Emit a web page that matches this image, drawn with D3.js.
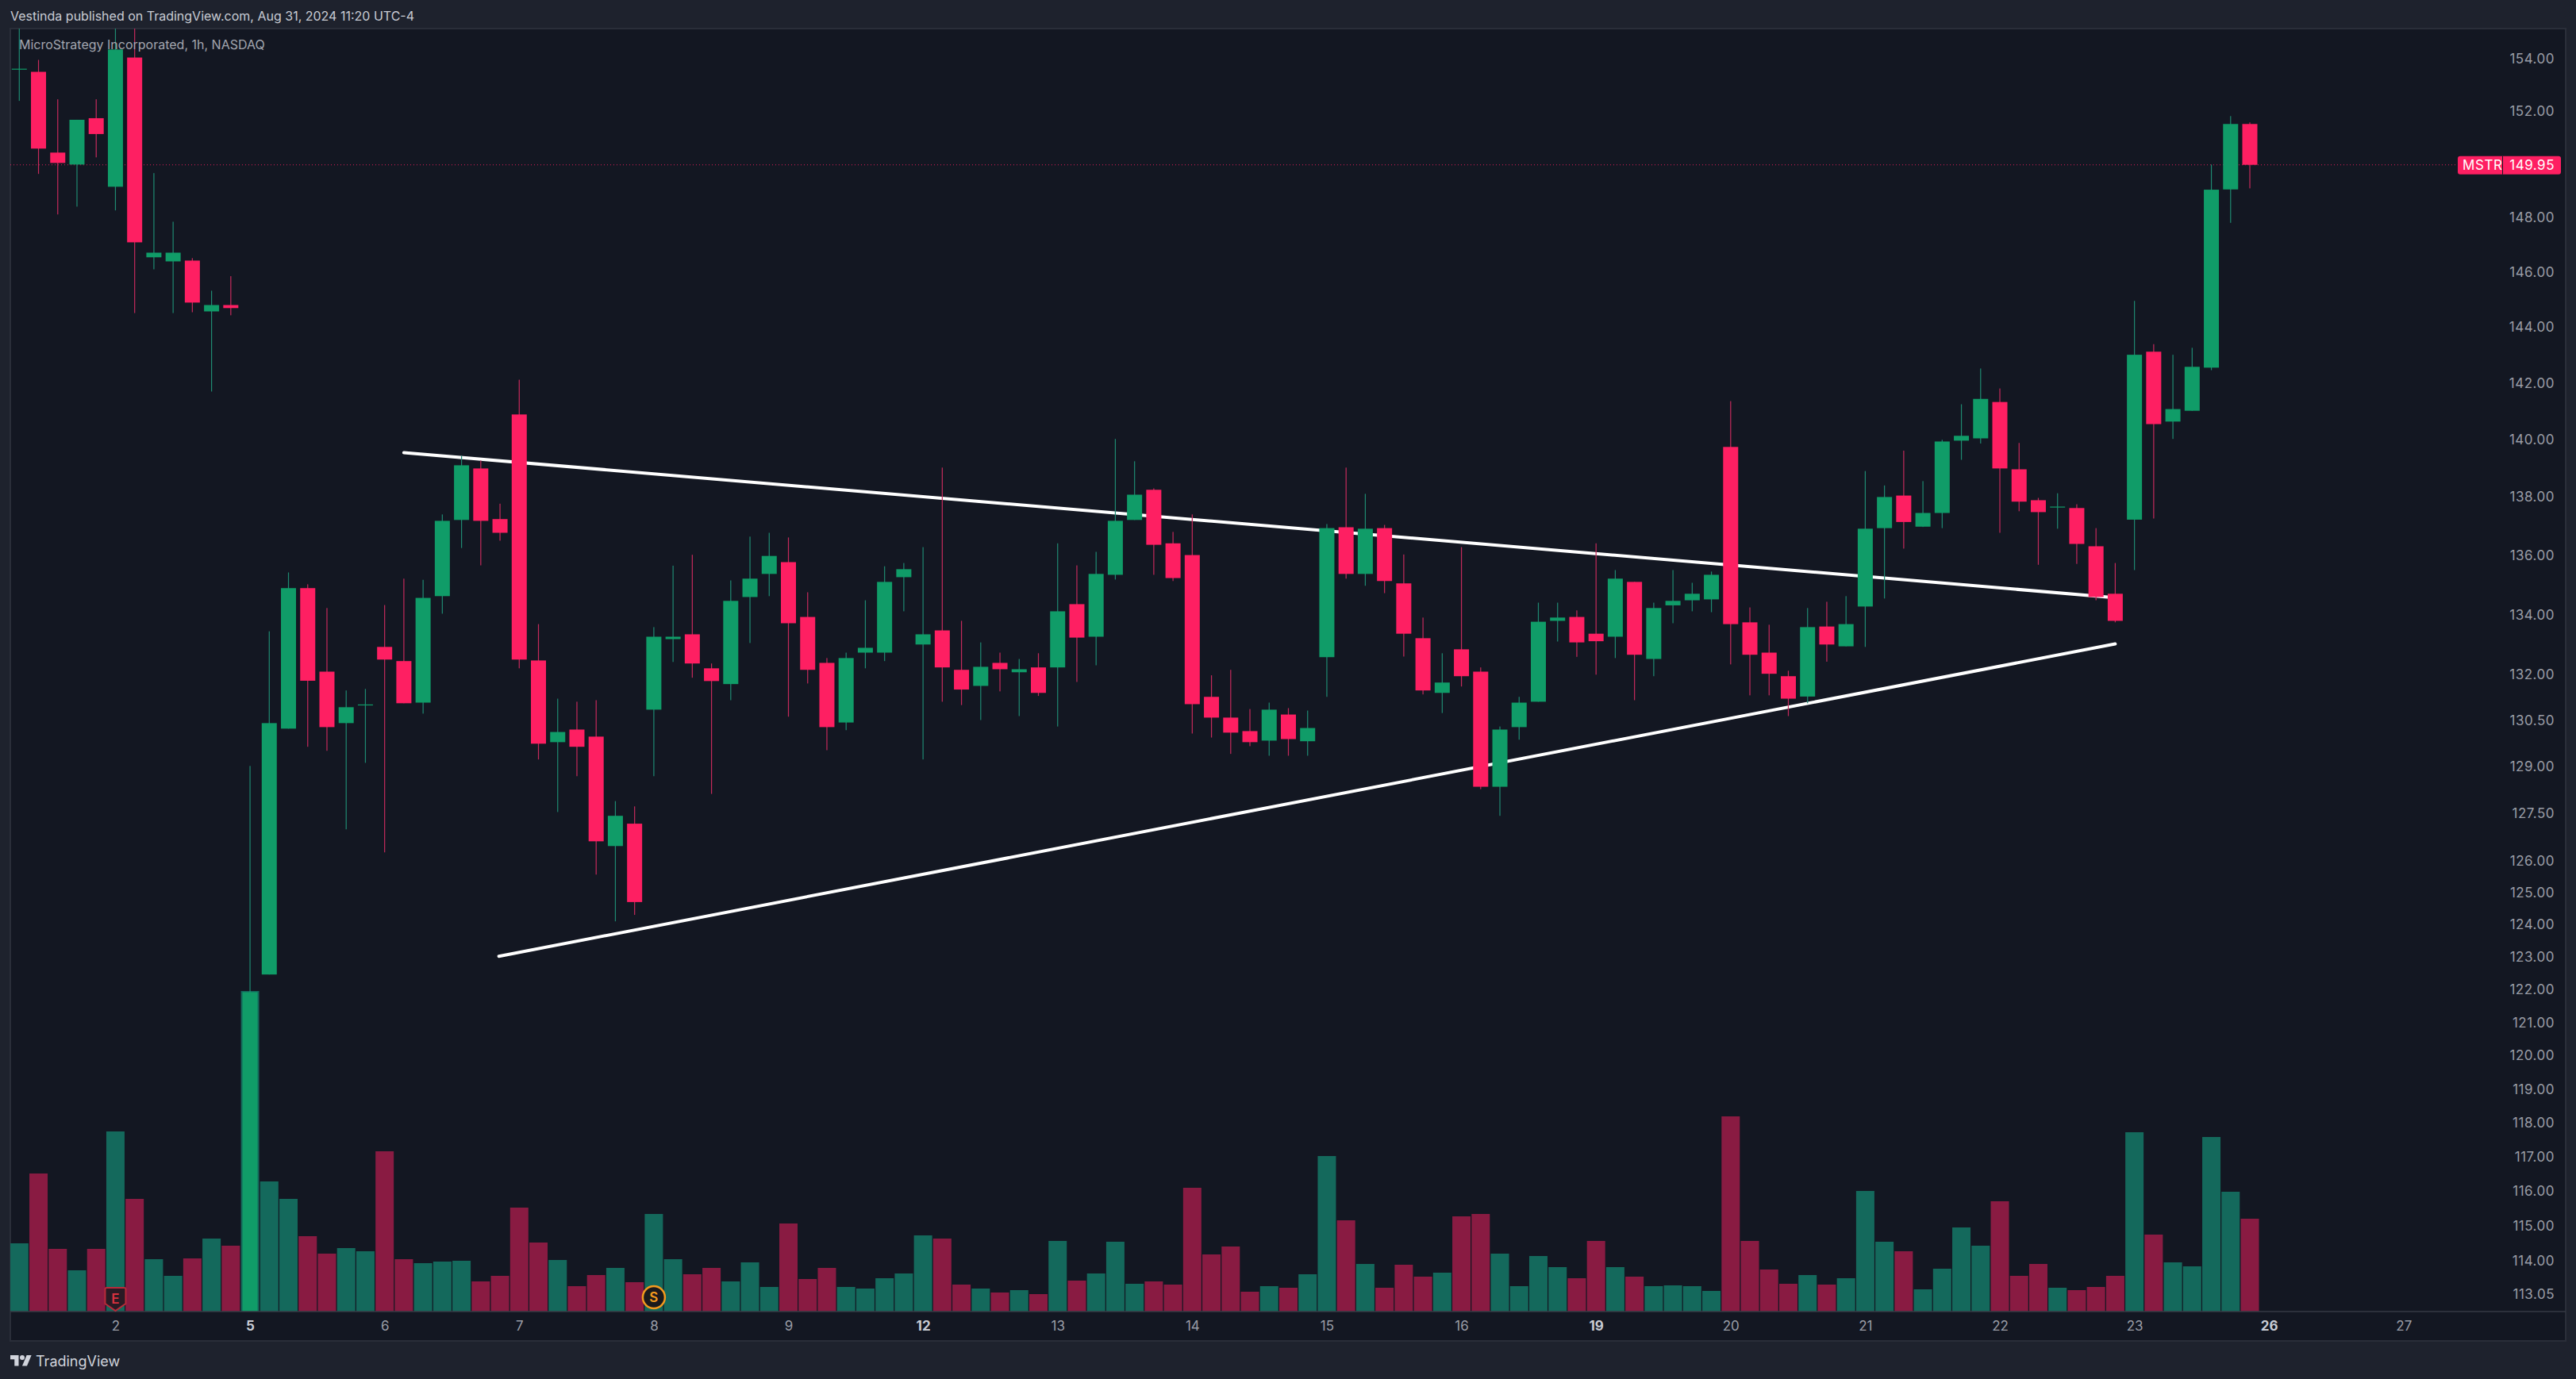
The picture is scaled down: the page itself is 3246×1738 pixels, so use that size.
<!DOCTYPE html>
<html lang="en">
<head>
<meta charset="utf-8">
<title>MSTR 1h</title>
<script src="https://cdnjs.cloudflare.com/ajax/libs/d3/7.9.0/d3.min.js"></script>
<style>
  html, body { margin: 0; padding: 0; background: #1e222d; }
  svg { display: block; }
  text { font-family: Inter, "Noto Sans", sans-serif; }
</style>
</head>
<body>
<div id="chart"></div>
<script>
// Hourly OHLC bars, oldest first
const opens = [153.58,153.48,150.41,149.96,151.71,149.13,154.03,146.52,146.37,146.40,
  144.55,144.78,111.50,122.45,130.22,134.88,132.09,130.40,131.00,132.91,
  132.44,131.07,134.61,137.20,138.98,137.23,140.87,132.46,129.78,130.19,
  129.96,126.45,127.16,130.84,133.17,133.33,132.20,131.68,134.58,135.36,
  135.76,133.91,132.38,130.42,132.72,132.72,135.25,132.99,133.46,132.15,
  131.62,132.38,132.07,132.23,132.23,134.34,133.25,135.33,137.20,138.24,
  136.40,136.00,131.26,130.58,130.14,129.83,130.68,129.81,132.57,136.95,
  135.36,136.92,135.04,133.20,131.39,132.83,132.09,128.34,130.27,131.10,
  133.78,133.91,133.35,133.25,135.09,132.51,134.30,134.47,134.50,139.73,
  133.73,132.72,131.94,131.27,133.59,132.93,134.26,136.92,138.04,136.97,
  137.44,139.95,140.03,141.31,138.95,137.88,137.65,137.61,136.30,134.69,
  137.21,143.10,140.62,141.00,142.53,149.03,151.49];
const highs = [155.31,153.94,152.43,151.65,152.43,155.31,155.31,149.64,147.83,146.49,
  145.30,145.83,129.01,133.43,135.41,135.01,134.21,131.47,131.52,134.31,
  135.20,135.16,137.39,139.42,139.26,137.76,142.10,133.67,131.20,131.10,
  131.15,127.88,127.71,133.57,135.64,136.01,132.36,135.14,136.63,136.76,
  136.60,134.74,132.54,132.72,134.47,135.62,135.73,136.27,139.01,133.78,
  133.06,132.72,132.51,132.70,136.40,135.65,136.11,140.01,139.23,138.29,
  136.79,137.39,131.97,132.15,130.86,131.07,130.89,130.81,137.06,139.01,
  138.10,137.03,136.02,133.89,132.70,136.27,132.23,130.29,131.26,134.39,
  134.39,134.13,136.40,135.49,135.09,134.39,135.49,135.06,135.44,141.34,
  134.23,133.65,132.12,134.21,134.42,134.61,138.89,138.39,139.60,138.54,
  139.98,141.23,142.50,141.79,139.87,137.96,138.12,137.74,136.92,135.73,
  144.93,143.37,142.99,143.24,149.96,151.79,151.55];
const lows = [152.37,149.61,148.10,148.39,150.23,148.25,144.49,146.08,144.49,144.52,
  141.68,144.41,111.00,122.45,130.22,129.63,129.50,126.98,129.11,126.25,
  131.05,130.71,134.02,136.24,135.65,136.49,132.20,129.22,127.53,128.68,
  125.55,124.09,124.29,128.68,132.41,131.89,128.11,131.15,133.04,134.61,
  130.61,131.70,129.52,130.17,132.20,132.44,134.10,129.22,131.10,130.99,
  130.50,131.44,130.63,131.29,130.29,131.75,132.30,135.17,137.20,135.33,
  135.12,130.06,129.93,129.40,129.65,129.34,129.34,129.34,131.26,135.20,
  134.96,134.71,132.59,131.34,130.73,131.60,128.26,127.41,129.86,131.10,
  133.09,132.58,131.99,132.54,131.15,131.94,133.70,134.10,134.07,132.33,
  131.31,131.31,130.63,131.05,132.42,132.93,132.91,134.53,136.22,136.96,
  136.92,139.28,139.85,136.76,137.50,135.67,136.90,135.70,134.47,133.73,
  135.49,137.25,140.01,141.00,142.44,147.79,149.07];
const closes = [153.60,150.56,150.02,151.65,151.11,154.34,147.07,146.69,146.69,144.87,
  144.78,144.67,121.91,130.40,134.88,131.79,130.27,130.92,131.01,132.49,
  131.05,134.55,137.17,139.09,137.17,136.76,132.49,129.73,130.11,129.63,
  126.60,127.41,124.69,133.25,133.25,132.36,131.78,134.45,135.20,135.97,
  133.70,132.15,130.27,132.54,132.88,135.09,135.52,133.33,132.23,131.50,
  132.25,132.17,132.17,131.39,134.10,133.22,135.36,137.17,138.07,136.35,
  135.22,131.02,130.58,130.09,129.78,130.84,129.88,130.24,136.92,135.36,
  136.90,135.12,133.35,131.47,131.73,131.94,128.34,130.19,131.07,133.75,
  133.89,133.06,133.10,135.20,132.65,134.21,134.45,134.69,135.33,133.67,
  132.65,132.02,131.20,133.57,132.99,133.67,136.90,137.99,137.13,137.44,
  139.92,140.12,141.42,138.98,137.83,137.47,137.66,136.38,134.58,133.78,
  142.99,140.53,141.06,142.56,149.02,151.49,149.95];

// Traded volume per bar, thousands of shares
const volumes = [1720,3480,1580,1040,1580,4540,2840,1320,900,1340,
  1840,1660,8080,3280,2840,1900,1460,1600,1520,4040,
  1320,1220,1260,1280,760,900,2620,1740,1300,640,
  920,1100,740,2460,1320,940,1100,760,1240,620,
  2220,820,1100,620,580,840,960,1920,1840,680,
  580,480,540,440,1780,780,960,1760,700,760,
  680,3120,1440,1640,500,640,600,940,3920,2300,
  1200,600,1180,880,980,2400,2460,1460,640,1400,
  1120,840,1780,1120,880,640,660,640,520,4920,
  1780,1060,700,920,680,840,3040,1760,1520,560,
  1080,2120,1660,2780,900,1200,600,540,620,900,
  4520,1940,1240,1140,4400,3020,2340];

// Axis ticks
const priceTicks = [154,152,148,146,144,142,140,138,136,134,132,130.5,129,127.5,126,125,124,123,122,121,120,119,118,117,116,115,114,113.05];
const dayBars   = [5,12,19,26,33,40,47,54,61,68,75,82,89,96,103,110,117,124];
const dayLabels = ["2","5","6","7","8","9","12","13","14","15","16","19","20","21","22","23","26","27"];
const boldDays  = ["5","12","19","26"];

// Hand-drawn triangle trend lines: [bar position, price] end points
const upperTrendBars = [20.0,108.6];
const upperTrendPrices = [139.53,134.58];
const lowerTrendBars = [24.94,109.0];
const lowerTrendPrices = [123.01,133.01];

const lastPrice = 149.95;
const ticker = "MSTR";
const headline = "Vestinda published on TradingView.com, Aug 31, 2024 11:20 UTC-4";
const legend = "MicroStrategy Incorporated, 1h, NASDAQ";
const earningsBar = 5;
const splitBar = 33;

const W = 3246, H = 1738;
const pane = {left: 13, top: 36, right: 3233, bottom: 1690, base: 1653};
const colors = {
  frame: "#1e222d", pane: "#131722", edge: "#2a2e39",
  up: "#109c68", down: "#fe1f62",
  upWick: "#1f8a72", downWick: "#c52a5c",
  upVol: "#14695c", downVol: "#891b42",
  axis: "#9a9da6", headline: "#c9ccd4", legend: "#a3a6af"
};

const x = d3.scaleLinear().domain([0,116]).range([24.3,2835]);
const y = d3.scaleLog().domain([154,113.05]).range([73.5,1630.5]);
const yVol = d3.scaleLinear().domain([0,5000]).range([pane.base,pane.base-250]);

const bars = opens.map((o,i) => ({i, o, h: highs[i], l: lows[i], c: closes[i], v: volumes[i], up: closes[i] >= o}));

const svg = d3.select("#chart").append("svg").attr("width",W).attr("height",H).attr("viewBox",`0 0 ${W} ${H}`);

svg.append("rect").attr("width",W).attr("height",H).attr("fill",colors.frame);
svg.append("rect")
  .attr("x",pane.left).attr("y",pane.top)
  .attr("width",pane.right-pane.left).attr("height",pane.bottom-pane.top)
  .attr("fill",colors.pane).attr("stroke",colors.edge).attr("stroke-width",2);

svg.append("defs").append("clipPath").attr("id","plot")
  .append("rect").attr("x",pane.left).attr("y",pane.top)
  .attr("width",pane.right-pane.left).attr("height",pane.base-pane.top);

const plot = svg.append("g").attr("clip-path","url(#plot)");

// Volume columns sit behind the price action
plot.append("g").selectAll("rect").data(bars).join("rect")
  .attr("x",d => x(d.i)-11.5)
  .attr("width",23)
  .attr("y",d => yVol(d.v))
  .attr("height",d => yVol(0)-yVol(d.v))
  .attr("fill",d => d.up ? colors.upVol : colors.downVol);

// Trend lines
const trend = d3.line().x(d => x(d[0])).y(d => y(d[1]));
[[upperTrendBars,upperTrendPrices],[lowerTrendBars,lowerTrendPrices]].forEach(([bs,ps]) => {
  plot.append("path")
    .attr("d",trend(d3.zip(bs,ps)))
    .attr("fill","none").attr("stroke","#ffffff").attr("stroke-width",4).attr("stroke-linecap","round");
});

// Last price line
plot.append("line")
  .attr("x1",pane.left).attr("x2",3097)
  .attr("y1",y(lastPrice)).attr("y2",y(lastPrice))
  .attr("stroke",colors.down).attr("stroke-opacity",0.85).attr("stroke-width",1).attr("stroke-dasharray","1 3");

// Candles: wick then body
const candles = plot.append("g").selectAll("g").data(bars).join("g");
candles.append("rect")
  .attr("x",d => x(d.i)-0.6).attr("width",1.2)
  .attr("y",d => y(d.h)).attr("height",d => y(d.l)-y(d.h))
  .attr("fill",d => d.up ? colors.upWick : colors.downWick);
candles.append("rect")
  .attr("x",d => x(d.i)-9.5).attr("width",19)
  .attr("y",d => y(Math.max(d.o,d.c)))
  .attr("height",d => Math.max(1.2,y(Math.min(d.o,d.c))-y(Math.max(d.o,d.c))))
  .attr("fill",d => d.up ? colors.up : colors.down);

// Time scale boundary
svg.append("line").attr("x1",pane.left).attr("x2",pane.right)
  .attr("y1",pane.base).attr("y2",pane.base)
  .attr("stroke","#363a45").attr("stroke-width",1.5);

// Price axis
const priceAxis = svg.append("g").attr("transform","translate(3219,0.5)")
  .call(d3.axisLeft(y).tickValues(priceTicks).tickSize(0).tickPadding(0).tickFormat(d3.format(".2f")));
priceAxis.select(".domain").remove();
priceAxis.selectAll("text").attr("fill",colors.axis).style("font-size","17px").style("letter-spacing","0.5px");

// Time axis
const timeAxis = svg.append("g").attr("transform",`translate(0,${pane.base})`)
  .call(d3.axisBottom(x).tickValues(dayBars).tickSize(0).tickPadding(12).tickFormat((d,i) => dayLabels[i]));
timeAxis.select(".domain").remove();
timeAxis.selectAll("text")
  .attr("fill",t => boldDays.includes(dayLabels[dayBars.indexOf(t)]) ? "#c9ccd4" : colors.axis)
  .style("font-size","17px")
  .style("font-weight",t => boldDays.includes(dayLabels[dayBars.indexOf(t)]) ? 700 : 400);

// Last price tag
const tagY = y(lastPrice) + 0.5;
const tag = svg.append("g");
tag.append("rect").attr("x",3097).attr("y",tagY-11.5).attr("width",130).attr("height",23).attr("rx",3).attr("fill",colors.down);
tag.append("line").attr("x1",3153.5).attr("x2",3153.5).attr("y1",tagY-11.5).attr("y2",tagY+11.5).attr("stroke",colors.pane).attr("stroke-width",1);
tag.append("text").attr("x",3103).attr("y",tagY).attr("dy","0.35em").attr("fill","#fff").style("font-size","17px").style("letter-spacing","0.6px").text(ticker);
tag.append("text").attr("x",3219).attr("y",tagY).attr("dy","0.35em").attr("text-anchor","end").attr("fill","#fff").style("font-size","17px").style("letter-spacing","0.5px").text(d3.format(".2f")(lastPrice));

// Header and legend
svg.append("text").attr("x",13).attr("y",26).attr("fill",colors.headline).style("font-size","16px").text(headline);
svg.append("text").attr("x",24).attr("y",62).attr("fill",colors.legend).style("font-size","16px").text(legend);

// Event badges on the time scale
const eBadge = svg.append("g").attr("transform",`translate(${x(earningsBar)},1637)`);
eBadge.append("path")
  .attr("d","M-11,-14 H11 Q13,-14 13,-12 V6 L0,15 L-13,6 V-12 Q-13,-14 -11,-14 Z")
  .attr("fill","#2a1a24").attr("stroke","#b92a3a").attr("stroke-width",2);
eBadge.append("text").attr("text-anchor","middle").attr("y",6).attr("fill","#d8323f").style("font-size","17px").style("font-weight",600).text("E");

const sBadge = svg.append("g").attr("transform",`translate(${x(splitBar)},1635)`);
sBadge.append("circle").attr("r",14).attr("fill","#1b1a1c").attr("stroke","#f39a1e").attr("stroke-width",2.5);
sBadge.append("text").attr("text-anchor","middle").attr("y",6).attr("fill","#f39a1e").style("font-size","17px").style("font-weight",600).text("S");

// Footer mark
const logo = svg.append("g").attr("transform","translate(13,1705) scale(0.75)").attr("fill","#d1d4dc");
logo.append("path").attr("d","M14 22H7V11H0V4h14v18z");
logo.append("path").attr("d","M28 22h-8l7.5-18h8L28 22z");
logo.append("circle").attr("cx",20).attr("cy",8).attr("r",4);
svg.append("text").attr("x",45).attr("y",1722).attr("fill","#d1d4dc").style("font-size","18px").text("TradingView");
</script>
</body>
</html>
